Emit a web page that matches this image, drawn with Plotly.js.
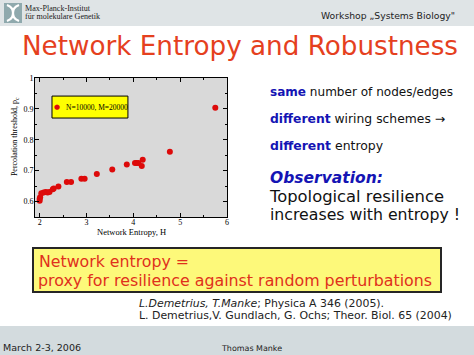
<!DOCTYPE html>
<html>
<head>
<meta charset="utf-8">
<script src="https://cdn.plot.ly/plotly-3.0.1.min.js"></script>
<style>
  html, body { margin:0; padding:0; background:#ffffff; }
  #wrap { position:relative; width:474px; height:355px; overflow:hidden; }
  #bg { position:absolute; left:0; top:0; }
  #chart { position:absolute; left:0; top:0; width:474px; height:355px; }
</style>
</head>
<body>
<div id="wrap">
<svg id="bg" width="474" height="355" xmlns="http://www.w3.org/2000/svg">
  <rect x="0" y="0" width="474" height="26" fill="#dfe4e6"/>
  <rect x="0" y="326" width="474" height="29" fill="#d3dbde"/>
  <!-- logo -->
  <rect x="4" y="3" width="18" height="20" fill="#8fa9ad"/>
  <path d="M7 5 C 18 9, 8 17, 19 21" stroke="#ffffff" stroke-width="2.2" fill="none"/>
  <path d="M19 5 C 8 9, 18 17, 7 21" stroke="#ffffff" stroke-width="2.2" fill="none"/>
  <g id="texts" font-family="DejaVu Sans, Verdana, sans-serif">
    <text data-w="65" x="25" y="11" font-size="8" font-family="Liberation Serif, serif" fill="#222">Max-Planck-Institut</text>
    <text data-w="75" x="25" y="19" font-size="8" font-family="Liberation Serif, serif" fill="#222">für molekulare Genetik</text>
    <text data-w="134" x="321" y="19" font-size="10" fill="#222">Workshop „Systems Biology"</text>
    <text data-w="436" x="22" y="55" font-size="24" fill="#e5401e">Network Entropy and Robustness</text>
    <text data-w="183" x="270" y="96" font-size="12" fill="#111"><tspan font-weight="bold" fill="#1414b4">same</tspan> number of nodes/edges</text>
    <text data-w="175" x="270" y="123" font-size="12" fill="#111"><tspan font-weight="bold" fill="#1414b4">different</tspan> wiring schemes →</text>
    <text data-w="113" x="270" y="150" font-size="12" fill="#111"><tspan font-weight="bold" fill="#1414b4">different</tspan> entropy</text>
    <text data-w="113" x="270" y="183" font-size="15" font-weight="bold" font-style="italic" fill="#1414b4">Observation:</text>
    <text data-w="174" x="270" y="202" font-size="15" fill="#111">Topological resilience</text>
    <text data-w="190" x="270" y="220" font-size="15" fill="#111">increases with entropy !</text>
    <text data-w="245" x="139" y="307" font-size="10" fill="#222"><tspan font-style="italic">L.Demetrius, T.Manke</tspan>; Physica A 346 (2005).</text>
    <text data-w="313" x="139" y="319" font-size="10" fill="#222">L. Demetrius,V. Gundlach, G. Ochs;  Theor. Biol. 65 (2004)</text>
    <text data-w="78" x="3" y="351" font-size="9" fill="#222">March 2-3, 2006</text>
    <text data-w="60" x="222" y="351" font-size="9" fill="#222">Thomas Manke</text>
  </g>
  <rect x="33" y="248" width="408" height="44" fill="#fdf97a" stroke="#262626" stroke-width="2"/>
  <g id="texts2" font-family="DejaVu Sans, Verdana, sans-serif">
    <text data-w="150" x="39" y="267" font-size="15" fill="#e0301c">Network entropy =</text>
    <text data-w="394" x="38" y="286" font-size="15" fill="#e0301c">proxy for resilience against random perturbations</text>
  </g>
</svg>
<div id="chart"></div>
</div>
<script>
// ---- data ----
const entropyH = [2.00, 2.00, 2.01, 2.035, 2.085, 2.13, 2.17, 2.21, 2.28, 2.30, 2.40, 2.58, 2.67, 2.89, 2.96, 3.22, 3.55, 3.86, 4.035, 4.07, 4.11, 4.18, 4.20, 4.78, 5.75];
const percThreshold = [0.603, 0.609, 0.614, 0.627, 0.629, 0.631, 0.629, 0.631, 0.640, 0.642, 0.649, 0.663, 0.663, 0.674, 0.674, 0.689, 0.704, 0.720, 0.725, 0.725, 0.725, 0.715, 0.735, 0.761, 0.904];
const seriesName = 'N=10000, M=20000';
const xTitle = 'Network Entropy, H';
const yTitle = 'Percolation threshold, p<sub>c</sub>';

function fitTexts() {
  document.querySelectorAll('#bg text[data-w]').forEach(el => {
    const target = parseFloat(el.getAttribute('data-w'));
    const fs = parseFloat(el.getAttribute('font-size'));
    const len = el.getComputedTextLength();
    if (len > 0) el.setAttribute('font-size', (fs * target / len).toFixed(2));
  });
}

const serif = 'Liberation Serif, Times New Roman, serif';
const red = '#dd0a0a';

const trace = {
  x: entropyH, y: percThreshold, type: 'scatter', mode: 'markers', name: seriesName,
  marker: { color: red, size: 6, line: { width: 0 } }, showlegend: false
};

const axisCommon = {
  showline: true, linecolor: '#000', linewidth: 1, mirror: 'allticks',
  ticks: 'inside', ticklen: 4, tickcolor: '#000', tickwidth: 1,
  showgrid: false, zeroline: false,
  tickfont: { family: serif, size: 8, color: '#000' }
};

const layout = {
  width: 474, height: 355,
  margin: { l: 35, r: 247, t: 78, b: 138, pad: 0 },
  paper_bgcolor: 'rgba(0,0,0,0)',
  plot_bgcolor: '#d9d9d9',
  showlegend: false,
  xaxis: Object.assign({}, axisCommon, {
    range: [1.9, 6], tick0: 0, dtick: 1, ticklabelstandoff: -3,
    minor: { dtick: 0.5, ticks: 'inside', ticklen: 2, tickcolor: '#000', showgrid: false }
  }),
  yaxis: Object.assign({}, axisCommon, {
    range: [0.55, 1], tick0: 0, dtick: 0.1, ticklabelstandoff: -1,
    minor: { dtick: 0.05, ticks: 'inside', ticklen: 2, tickcolor: '#000', showgrid: false }
  }),
  shapes: [
    { type: 'rect', xref: 'paper', yref: 'paper', x0: 0.0885, x1: 0.484, y0: 0.712, y1: 0.870,
      fillcolor: '#ffff00', line: { color: '#000', width: 1 } }
  ],
  annotations: [
    { xref: 'paper', yref: 'paper', x: 0.115, y: 0.791, xanchor: 'center', yanchor: 'middle',
      text: '●', showarrow: false, font: { family: 'DejaVu Sans, sans-serif', size: 7, color: red } },
    { xref: 'paper', yref: 'paper', x: 0.15, y: 0.791, xanchor: 'left', yanchor: 'middle',
      text: seriesName, showarrow: false, font: { family: serif, size: 7.5, color: '#000' } },
    { xref: 'paper', yref: 'paper', x: -0.104, y: 0.575, xanchor: 'center', yanchor: 'middle',
      textangle: -90, text: yTitle, showarrow: false, font: { family: serif, size: 8, color: '#000' } },
    { xref: 'paper', yref: 'paper', x: 0.5, y: -0.108, xanchor: 'center', yanchor: 'middle',
      text: xTitle, showarrow: false, font: { family: serif, size: 8.5, color: '#000' } }
  ]
};

Plotly.newPlot('chart', [trace], layout, { staticPlot: true, displayModeBar: false });

fitTexts();
if (document.fonts && document.fonts.ready) document.fonts.ready.then(fitTexts);
</script>
</body>
</html>
